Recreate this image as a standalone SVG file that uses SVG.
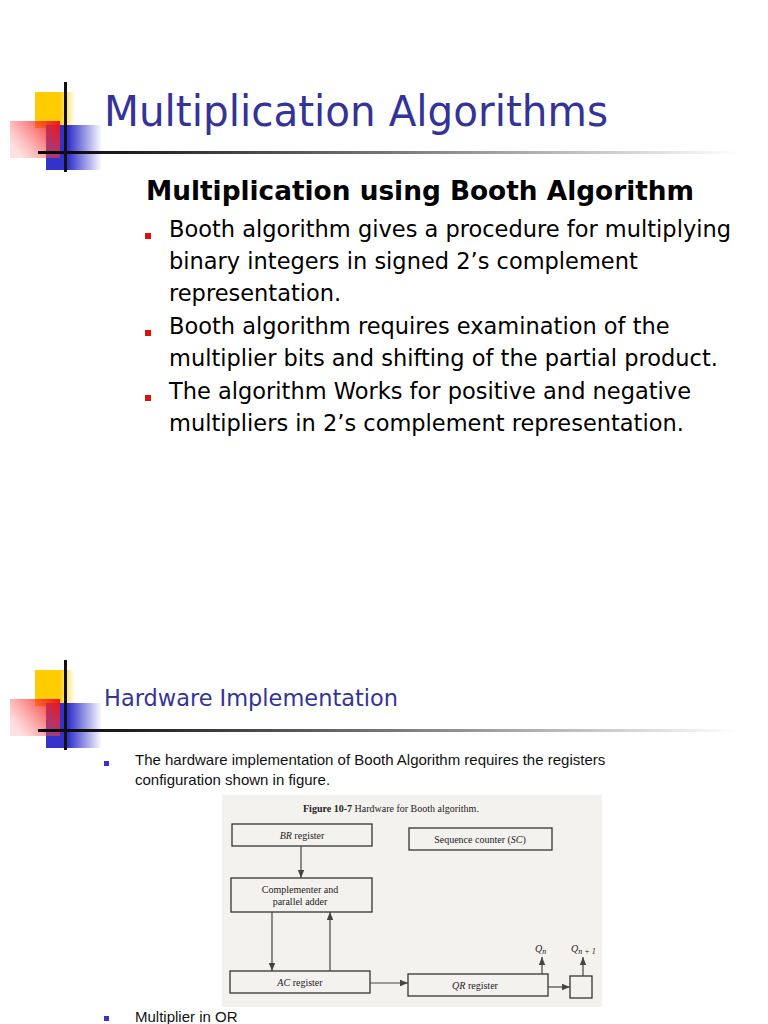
<svg xmlns="http://www.w3.org/2000/svg" width="768" height="1024" viewBox="0 0 768 1024">
<defs>
<linearGradient id="yel" x1="0" x2="1"><stop offset="0.6" stop-color="#ffcc00"/><stop offset="1" stop-color="#ffcc00" stop-opacity="0"/></linearGradient>
<linearGradient id="red" x1="1" x2="0" y1="0" y2="0.6"><stop offset="0" stop-color="#ee1111"/><stop offset="1" stop-color="#ff6666" stop-opacity="0.2"/></linearGradient>
<linearGradient id="blu" x1="0" x2="1"><stop offset="0.4" stop-color="#3333cc"/><stop offset="1" stop-color="#3333cc" stop-opacity="0"/></linearGradient>
<linearGradient id="ln" x1="0" x2="1"><stop offset="0" stop-color="#000"/><stop offset="0.5" stop-color="#777"/><stop offset="1" stop-color="#fff"/></linearGradient>
<marker id="ar" viewBox="0 0 10 10" refX="10" refY="5" markerWidth="7" markerHeight="7" orient="auto"><path d="M0,1 L10,5 L0,9 Z" fill="#444"/></marker>
<g id="logo">
<rect x="35" y="92" width="40" height="36" fill="url(#yel)"/>
<rect x="46" y="125" width="56" height="45" fill="url(#blu)"/>
<rect x="10" y="121" width="50" height="37" fill="url(#red)"/>
<rect x="38" y="151" width="700" height="3" fill="url(#ln)"/>
<rect x="64" y="82" width="3" height="90" fill="#111"/>
</g>
</defs>
<style>
.t{font-family:"DejaVu Sans",Verdana,sans-serif}
.b{font-family:"DejaVu Sans",sans-serif;font-size:22.5px;fill:#000}
.s{font-family:"Liberation Sans",Arial,sans-serif;font-size:15px;fill:#111}
.f{font-family:"Liberation Serif","Times New Roman",serif;font-size:10px;fill:#222}
.box{fill:none;stroke:#333;stroke-width:1.3}
.c{stroke:#444;stroke-width:1.2;fill:none}
</style>
<rect width="768" height="1024" fill="#fff"/>
<use href="#logo"/>
<use href="#logo" y="578"/>
<text x="104" y="126" class="t" font-size="42" fill="#333399" textLength="504" lengthAdjust="spacingAndGlyphs">Multiplication Algorithms</text>
<text x="146" y="200" class="t" font-size="26" font-weight="bold" fill="#000" textLength="548" lengthAdjust="spacingAndGlyphs">Multiplication using Booth Algorithm</text>
<g fill="#e01010"><rect x="145" y="233" width="6" height="6"/><rect x="145" y="330" width="6" height="6"/><rect x="145" y="395" width="6" height="6"/></g>
<text class="b"><tspan x="169" y="237">Booth algorithm gives a procedure for multiplying</tspan><tspan x="169" y="269">binary integers in signed 2’s complement</tspan><tspan x="169" y="301">representation.</tspan><tspan x="169" y="334">Booth algorithm requires examination of the</tspan><tspan x="169" y="366">multiplier bits and shifting of the partial product.</tspan><tspan x="169" y="399">The algorithm Works for positive and negative</tspan><tspan x="169" y="431">multipliers in 2’s complement representation.</tspan></text>
<text x="104" y="706" class="t" font-size="23" fill="#333399" textLength="294" lengthAdjust="spacingAndGlyphs">Hardware Implementation</text>
<g fill="#3333cc"><rect x="104" y="761" width="5" height="5"/><rect x="104" y="1016" width="5" height="5"/></g>
<text class="s"><tspan x="135" y="765">The hardware implementation of Booth Algorithm requires the registers</tspan><tspan x="135" y="785">configuration shown in figure.</tspan><tspan x="135" y="1022">Multiplier in OR</tspan></text>
<rect x="222" y="795" width="380" height="212" fill="#f4f2ee"/>
<text x="303" y="812" class="f" font-size="11"><tspan font-weight="bold">Figure 10-7</tspan>   Hardware for Booth algorithm.</text>
<g id="br"><rect x="232" y="824" width="140" height="22" class="box"/><text x="302" y="839" class="f" text-anchor="middle"><tspan font-style="italic">BR</tspan> register</text></g>
<g id="sc"><rect x="409" y="828" width="143" height="22" class="box"/><text x="480" y="843" class="f" text-anchor="middle">Sequence counter (<tspan font-style="italic">SC</tspan>)</text></g>
<g id="cpa"><rect x="231" y="878" width="141" height="34" class="box"/><text class="f" text-anchor="middle"><tspan x="300" y="893">Complementer and</tspan><tspan x="300" y="905">parallel adder</tspan></text></g>
<g id="ac"><rect x="230" y="971" width="140" height="22" class="box"/><text x="300" y="986" class="f" text-anchor="middle"><tspan font-style="italic">AC</tspan> register</text></g>
<g id="qr"><rect x="408" y="974" width="140" height="22" class="box"/><text x="475" y="989" class="f" text-anchor="middle"><tspan font-style="italic">QR</tspan> register</text></g>
<g id="qn1"><rect x="570" y="976" width="22" height="22" class="box"/></g>
<g id="connectors">
<line x1="301" y1="846" x2="301" y2="878" class="c" marker-end="url(#ar)"/>
<line x1="272" y1="912" x2="272" y2="971" class="c" marker-end="url(#ar)"/>
<line x1="330" y1="971" x2="330" y2="912" class="c" marker-end="url(#ar)"/>
<line x1="370" y1="983" x2="408" y2="983" class="c" marker-end="url(#ar)"/>
<line x1="548" y1="987" x2="570" y2="987" class="c" marker-end="url(#ar)"/>
<line x1="542" y1="974" x2="542" y2="957" class="c" marker-end="url(#ar)"/>
<line x1="583" y1="976" x2="583" y2="957" class="c" marker-end="url(#ar)"/>
</g>
<text x="535" y="952" class="f" font-style="italic" font-size="11">Q<tspan font-size="8" dy="2">n</tspan></text>
<text x="571" y="952" class="f" font-style="italic" font-size="11">Q<tspan font-size="8" dy="2">n + 1</tspan></text>
</svg>
